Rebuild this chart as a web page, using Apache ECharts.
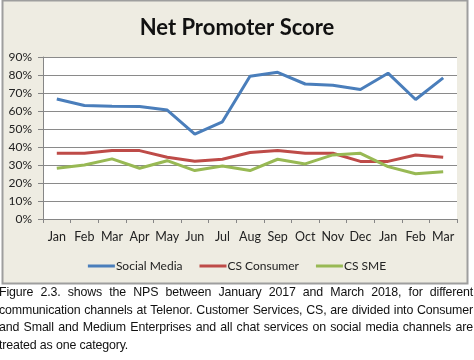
<!DOCTYPE html>
<html>
<head>
<meta charset="utf-8">
<script src="https://cdn.jsdelivr.net/npm/echarts@6/dist/echarts.min.js"></script>
<style>
html,body{margin:0;padding:0;background:#fff;width:474px;height:360px;overflow:hidden;}
#chart{position:absolute;left:0;top:0;width:474px;height:360px;}
#cap{position:absolute;left:-1px;top:284px;width:474px;font-family:"Liberation Sans",Arial,sans-serif;font-size:12.4px;letter-spacing:-0.15px;line-height:17.6px;color:#111;text-align:justify;}
</style>
</head>
<body>
<div id="chart"></div>
<div id="cap">Figure 2.3. shows the NPS between January 2017 and March 2018, for different communication channels at Telenor. Customer Services, CS, are divided into Consumer and Small and Medium Enterprises and all chat services on social media channels are treated as one category.</div>
<script>
const months = ['Jan','Feb','Mar','Apr','May','Jun','Jul','Aug','Sep','Oct','Nov','Dec','Jan','Feb','Mar'];
const socialMedia = [66.7,63.1,62.7,62.5,60.5,47.2,54,79.3,81.5,75,74.3,71.9,81,66.4,78.4];
const csConsumer = [36.5,36.5,38,38,34.3,32.1,33.2,36.9,38,36.5,36.5,32,32,35.6,34.3];
const csSME = [28.2,30,33.4,28.2,32.4,26.9,29.5,26.9,33.2,30.6,35.6,36.5,29.1,25.1,26.2];
const yTicks = [0,10,20,30,40,50,60,70,80,90];

const chart = echarts.init(document.getElementById('chart'), null, {renderer:'canvas'});
const font = 'Lato, "DejaVu Sans", sans-serif';
const mk = (name, data, color) => ({
  name, type:'line', data, showSymbol:false, symbol:'none',
  lineStyle:{width:3, color}, itemStyle:{color}, silent:true
});
chart.setOption({
  animation:false,
  graphic:[{type:'rect', z:-10, shape:{x:2.5,y:0.5,width:465,height:283}, style:{fill:'#eeece2', stroke:'#9e9e9e', lineWidth:2}}],
  title:{text:'Net Promoter Score', left:'center', top:12, textStyle:{fontFamily:font, fontSize:22, fontWeight:'bold', color:'#111'}},
  grid:{left:43, right:17, top:57, bottom:141, show:true, backgroundColor:'#fff', borderWidth:0},
  legend:{top:255, left:'center', itemWidth:27, itemHeight:3, itemGap:17, icon:'rect',
    textStyle:{fontFamily:font, fontSize:12, color:'#222', padding:[0,0,0,-4]},
    data:['Social Media','CS Consumer','CS SME']},
  xAxis:{type:'category', data:months, boundaryGap:true,
    axisLine:{lineStyle:{color:'#868686', width:1}},
    axisTick:{show:true, length:4, alignWithLabel:false, lineStyle:{color:'#868686'}},
    axisLabel:{fontFamily:font, fontSize:12.5, color:'#222', margin:11, interval:0}},
  yAxis:{type:'value', min:yTicks[0], max:yTicks[yTicks.length-1], interval:10,
    axisLine:{show:true, lineStyle:{color:'#868686'}},
    axisTick:{show:true, length:5, lineStyle:{color:'#868686'}},
    splitLine:{lineStyle:{color:'#8a8a8a', width:1}},
    axisLabel:{fontFamily:font, fontSize:12, color:'#222', margin:11, formatter:'{value}%'}},
  series:[mk('Social Media', socialMedia, '#4a7ebb'), mk('CS Consumer', csConsumer, '#be4b48'), mk('CS SME', csSME, '#98b954')]
});
</script>
</body>
</html>
